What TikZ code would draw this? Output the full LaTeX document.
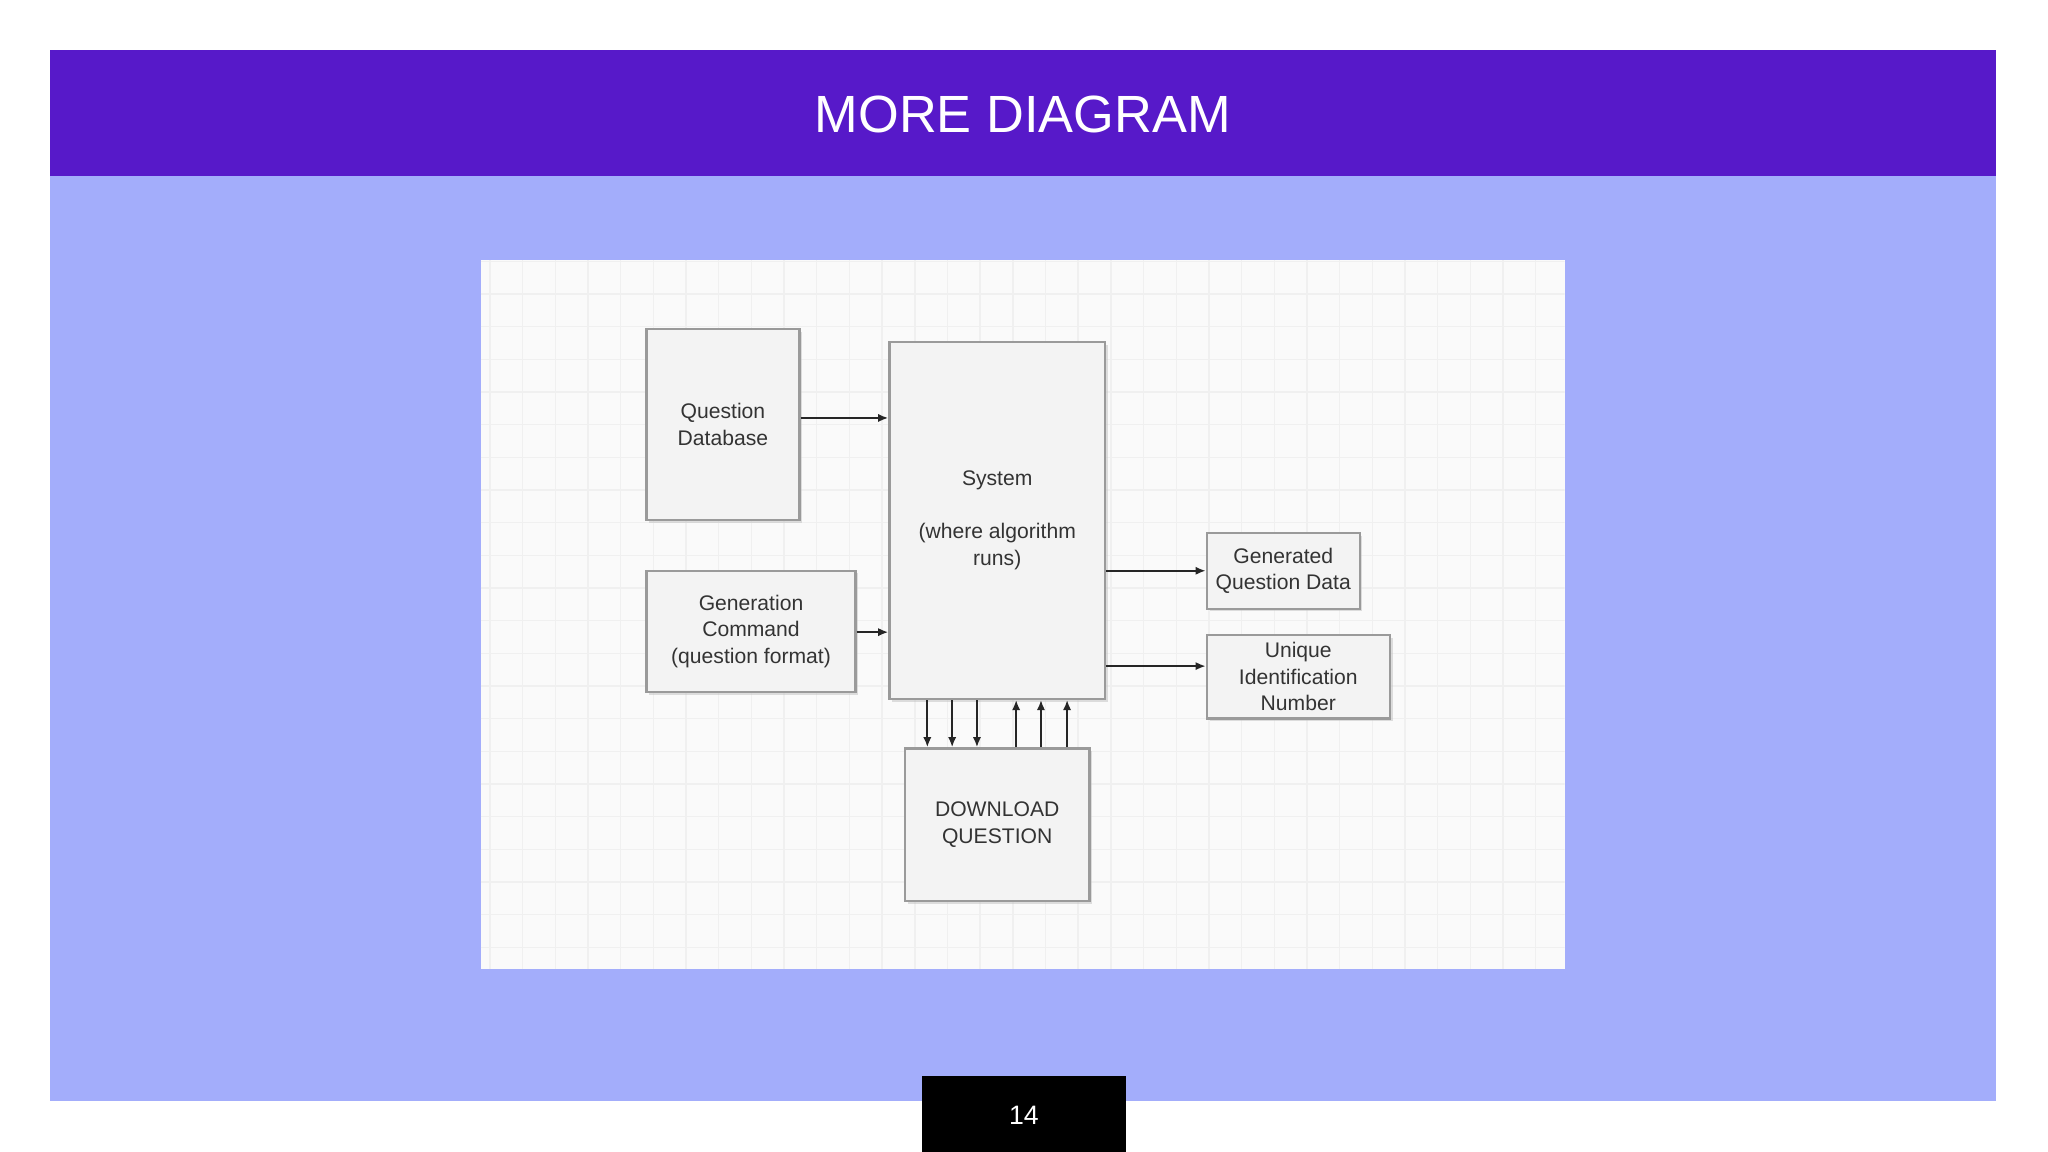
\documentclass[tikz,border=0pt]{standalone}
\usepackage{fontspec}
\setmainfont{Liberation Sans}
\usetikzlibrary{arrows.meta}
\definecolor{hdr}{HTML}{5719C9}
\definecolor{bodyc}{HTML}{A3ADFB}
\definecolor{panel}{HTML}{FAFAFA}
\definecolor{boxf}{HTML}{F3F3F3}
\definecolor{boxd}{HTML}{9A9A9A}
\tikzset{
  blk/.style={draw=boxd, fill=boxf, line width=0.5pt, align=center, inner sep=0pt,
    font=\fontsize{4.6}{5.8}\selectfont, text=black!80,
    drop shadow={shadow xshift=0.6pt, shadow yshift=-0.6pt, fill=black!25}},
  arr/.style={-{Latex[length=2.2pt,width=1.8pt]}, line width=0.4pt, draw=black!85}
}
\usetikzlibrary{shadows}
\begin{document}
\begin{tikzpicture}[x=0.01cm,y=-0.01cm]
\useasboundingbox (0,0) rectangle (1568,882);
\fill[white] (0,0) rectangle (1568,882);
\fill[bodyc] (38,135) rectangle (1528,843);
\fill[hdr] (38,38) rectangle (1528,135);
\node[text=white, font=\fontsize{11.4}{13}\selectfont] (title) at (783,88) {MORE DIAGRAM};
\fill[black] (706,824) rectangle (862,882);
\node[text=white, font=\fontsize{5.8}{7}\selectfont] (pg) at (784,854) {14};
\fill[panel] (368,199) rectangle (1198,742);
\begin{scope}
\clip (368,199) rectangle (1198,742);
\draw[black!6, line width=0.3pt, step=0.25cm] (368,199) grid (1198,742);
\end{scope}
\node[blk, minimum width=117\pgflinewidth*0+1.17cm, minimum height=1.46cm] (qdb) at (553.5,325) {Question\\Database};
\node[blk, minimum width=1.65cm, minimum height=2.73cm] (sys) at (763.5,398.5) {System\\[\baselineskip](where algorithm\\runs)};
\node[blk, minimum width=1.60cm, minimum height=0.93cm] (gen) at (575,483.5) {Generation\\Command\\(question format)};
\node[blk, minimum width=1.17cm, minimum height=0.58cm] (gqd) at (982.5,437) {Generated\\Question Data};
\node[blk, minimum width=1.40cm, minimum height=0.64cm] (uin) at (994,518) {Unique\\Identification\\Number};
\node[blk, minimum width=1.41cm, minimum height=1.17cm] (dl) at (763.5,631.5) {DOWNLOAD\\QUESTION};
\draw[arr] (qdb.east |- 0,320) -- (sys.west |- 0,320);
\draw[arr] (gen.east |- 0,484) -- (sys.west |- 0,484);
\draw[arr] (sys.east |- 0,437) -- (gqd.west |- 0,437);
\draw[arr] (sys.east |- 0,510) -- (uin.west |- 0,510);
\foreach \x in {710,729,748} \draw[arr] (sys.south -| \x,0) -- (dl.north -| \x,0);
\foreach \x in {778,797,817} \draw[arr] (dl.north -| \x,0) -- (sys.south -| \x,0);
\end{tikzpicture}
\end{document}
